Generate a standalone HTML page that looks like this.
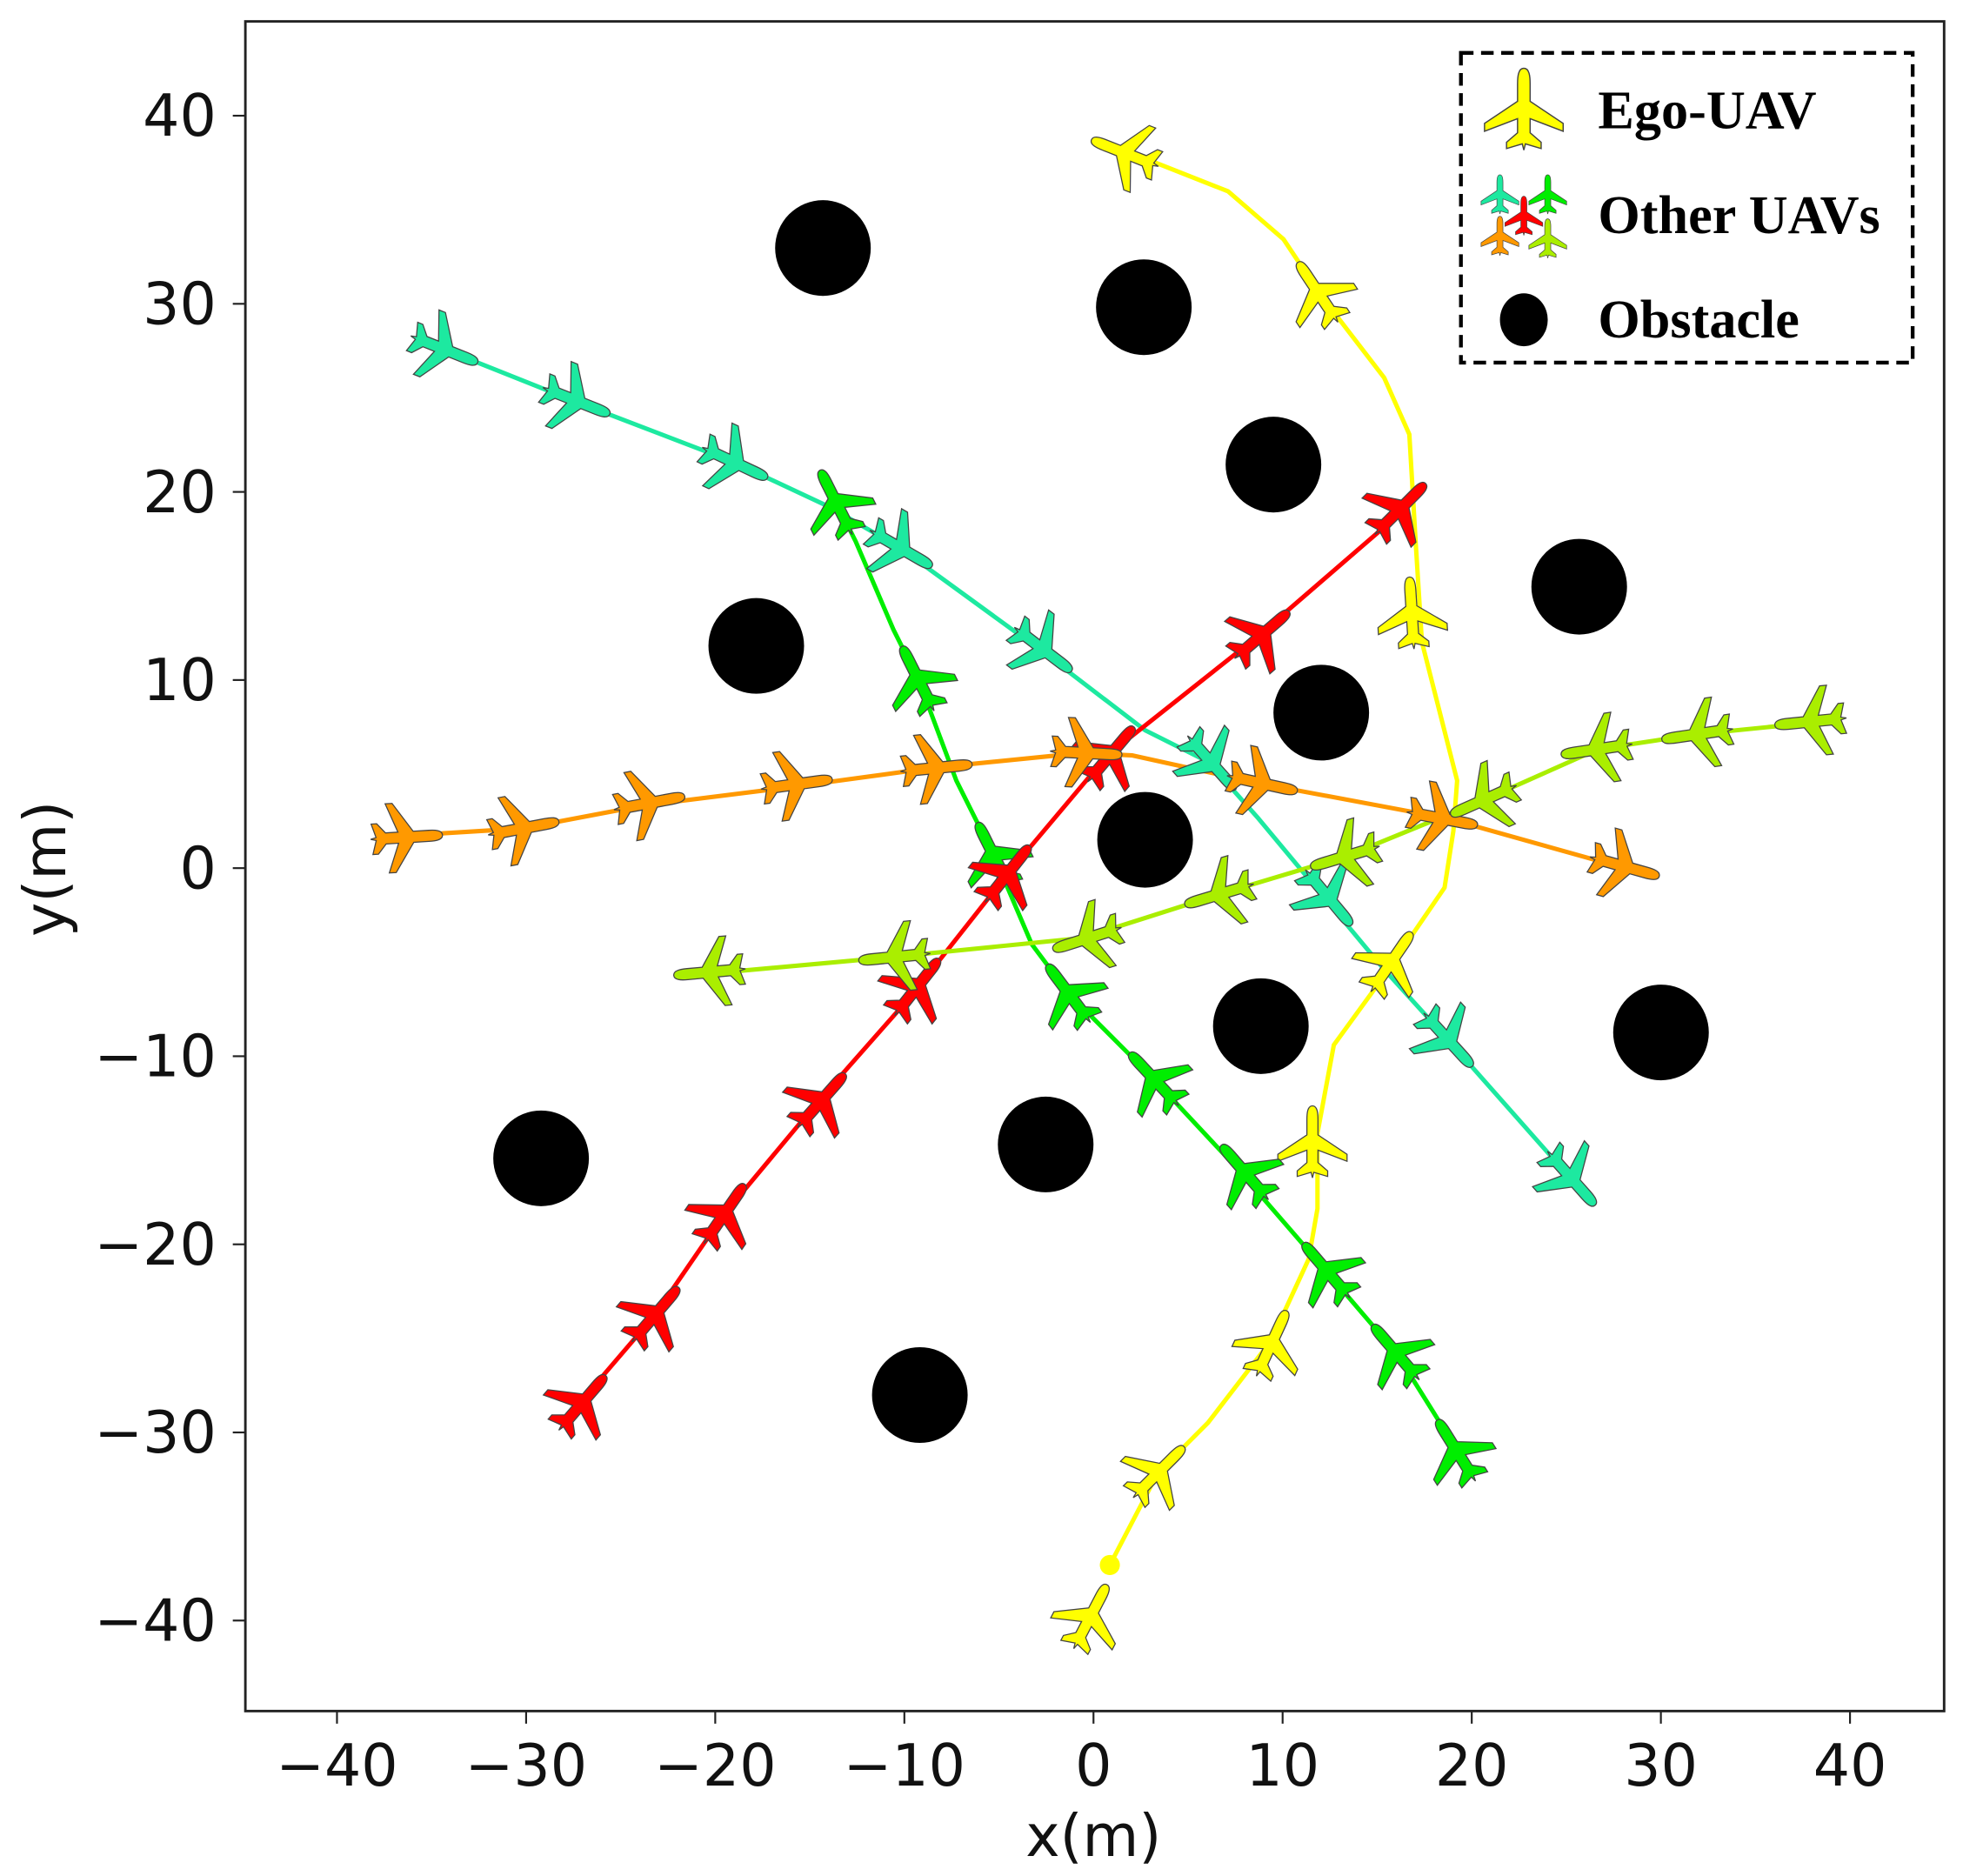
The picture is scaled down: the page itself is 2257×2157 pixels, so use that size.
<!DOCTYPE html>
<html><head><meta charset="utf-8"><style>
html,body{margin:0;padding:0;background:#fff;}
svg{display:block;}
</style></head><body>
<svg id="s" width="2257" height="2157" viewBox="0 0 1560 1490" preserveAspectRatio="none" xmlns="http://www.w3.org/2000/svg">
<defs>
<path id="pl" d="M0,-27 C3.5,-27 4,-22 4,-17 L4,-6 L25,8 L25,13 L4,5 L4,14 L11,20 L11,24 L1,21 L0,25 L-1,21 L-11,24 L-11,20 L-4,14 L-4,5 L-25,13 L-25,8 L-4,-6 L-4,-17 C-4,-22 -3.5,-27 0,-27Z" stroke="#444" stroke-width="0.8"/>
</defs>
<rect x="195" y="17" width="1350" height="1342" fill="none" stroke="#222" stroke-width="2"/>
<g id="obs" fill="#000">
<circle cx="654" cy="197" r="38"/><circle cx="909" cy="244" r="38"/><circle cx="1012" cy="369" r="38"/>
<circle cx="1255" cy="466" r="38"/><circle cx="601" cy="513" r="38"/><circle cx="1050" cy="566" r="38"/>
<circle cx="910" cy="667" r="38"/><circle cx="1002" cy="815" r="38"/><circle cx="1320" cy="820" r="38"/>
<circle cx="430" cy="920" r="38"/><circle cx="831" cy="909" r="38"/><circle cx="731" cy="1108" r="38"/>
</g>
<g id="lines" fill="none" stroke-width="3.5" stroke-linejoin="round"></g>
<g id="planes"></g>
<g font-family="DejaVu Sans, sans-serif" font-size="46" fill="#111">
<g stroke="#222" stroke-width="1.5" id="ticks"></g>
<g id="tl"></g>
<text x="869" y="1474" text-anchor="middle">x(m)</text>
<text transform="translate(52,690) rotate(-90)" text-anchor="middle">y(m)</text>
</g>
<rect x="1161" y="42" width="359" height="246" fill="#fff" stroke="#000" stroke-width="3" stroke-dasharray="10,6"/>
<g font-family="Liberation Serif, serif" font-weight="bold" font-size="43" fill="#000">
<text x="1270" y="102">Ego-UAV</text>
<text x="1270" y="185">Other UAVs</text>
<text x="1270" y="268">Obstacle</text>
</g>
<use href="#pl" transform="translate(1211,88) scale(1.25)" fill="#ffff00"/>
<use href="#pl" transform="translate(1192,155) scale(0.6)" fill="#1de9a0"/>
<use href="#pl" transform="translate(1230,155) scale(0.6)" fill="#00ee00"/>
<use href="#pl" transform="translate(1211,172) scale(0.6)" fill="#ff0000"/>
<use href="#pl" transform="translate(1192,188) scale(0.6)" fill="#ff9900"/>
<use href="#pl" transform="translate(1230,190) scale(0.6)" fill="#aaee00"/>
<ellipse cx="1211" cy="254" rx="19" ry="21" fill="#000"/>
</svg>
<script>
var NS="http://www.w3.org/2000/svg";
function el(t,a,p){var e=document.createElementNS(NS,t);for(var k in a)e.setAttribute(k,a[k]);p.appendChild(e);return e;}
var tk=document.getElementById('ticks'),tl=document.getElementById('tl');
for(var v=-40;v<=40;v+=10){
 var x=869+15.03*v, y=689.5-14.94*v;
 el('line',{x1:x,y1:1359,x2:x,y2:1369},tk);
 el('line',{x1:185,y1:y,x2:195,y2:y},tk);
 var lab=(v<0?'\u2212':'')+Math.abs(v);
 el('text',{x:x,y:1418,'text-anchor':'middle'},tl).textContent=lab;
 el('text',{x:172,y:y+16,'text-anchor':'end'},tl).textContent=lab;
}
var S=[
 {c:'#ffff00',p:[[882,1243],[920,1170],[960,1130],[1010,1065],[1040,1000],[1047,960],[1047,900],[1060,830],[1100,775],[1148,705],[1155,660],[1158,620],[1130,510],[1125,430],[1120,345],[1100,300],[1050,235],[1020,190],[976,152],[895,120]],
  q:[[866,1285],[920,1170],[1010,1068],[1043,908],[1105,765],[1122,488],[1048,233],[895,122]],dot:1},
 {c:'#1de9a0',p:[[352,277],[455,318],[583,367],[660,403],[715,435],[825,515],[910,580],[960,605],[1000,650],[1050,710],[1100,770],[1150,825],[1250,938]],
  q:[[352,277],[457,318],[583,367],[715,435],[828,515],[962,605],[1055,712],[1150,825],[1248,935]]},
 {c:'#00ee00',p:[[1160,1155],[1110,1075],[1050,1005],[985,930],[915,855],[850,790],[820,750],[790,680],[760,620],[730,540],[710,500],[680,430],[665,400]],
  q:[[1158,1153],[1110,1075],[1055,1010],[990,932],[918,858],[850,790],[790,680],[730,540],[665,400]]},
 {c:'#ff0000',p:[[460,1115],[520,1045],[575,965],[650,875],[725,790],[800,695],[880,600],[1000,505],[1110,410],[1125,395]],
  q:[[462,1115],[520,1045],[575,965],[652,875],[728,785],[800,695],[882,600],[1002,505],[1112,405]]},
 {c:'#ff9900',p:[[300,665],[415,658],[510,640],[630,625],[740,610],[860,598],[900,600],[1000,622],[1150,650],[1300,692]],
  q:[[322,665],[415,658],[515,638],[632,623],[743,610],[862,598],[1002,622],[1145,650],[1290,688]]},
 {c:'#aaee00',p:[[1460,572],[1350,583],[1270,595],[1180,635],[1070,680],[970,710],[860,745],[710,760],[545,775]],
  q:[[1440,573],[1350,583],[1270,595],[1180,635],[1070,680],[970,710],[865,745],[712,760],[565,772]]}
];
var lg=document.getElementById('lines'),pg=document.getElementById('planes');
S.forEach(function(s){
 el('polyline',{points:s.p.map(function(a){return a.join(',')}).join(' '),stroke:s.c},lg);
 if(s.dot) el('circle',{cx:s.p[0][0],cy:s.p[0][1],r:8,fill:s.c},lg);
});
S.forEach(function(s){
 s.q.forEach(function(q){
  var best=1e9,bi=0;
  for(var i=0;i<s.p.length-1;i++){
   var a=s.p[i],b=s.p[i+1],mx=(a[0]+b[0])/2,my=(a[1]+b[1])/2;
   var d=(mx-q[0])*(mx-q[0])+(my-q[1])*(my-q[1]);
   if(d<best){best=d;bi=i;}
  }
  var a=s.p[bi],b=s.p[bi+1];
  var ang=Math.atan2(b[0]-a[0],-(b[1]-a[1]))*180/Math.PI;
  var u=el('use',{transform:'translate('+q[0]+','+q[1]+') rotate('+ang.toFixed(1)+') scale(1.1)',fill:s.c},pg);
  u.setAttribute('href','#pl');
 });
});
</script>
</body></html>
